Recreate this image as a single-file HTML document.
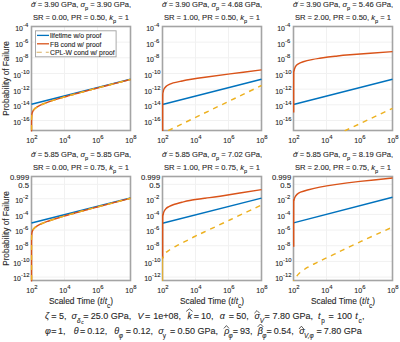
<!DOCTYPE html><html><head><meta charset="utf-8"><style>html,body{margin:0;padding:0;background:#fff;width:400px;height:342px;overflow:hidden}svg{display:block}text{stroke:#262626;stroke-width:0.1px}</style></head><body><svg width="400" height="342" viewBox="0 0 400 342" font-family="Liberation Sans, sans-serif"><defs><clipPath id="c00"><rect x="30.5" y="25.5" width="101.0" height="106.0"/></clipPath><clipPath id="c01"><rect x="161.5" y="25.5" width="101.0" height="106.0"/></clipPath><clipPath id="c02"><rect x="292.5" y="25.5" width="101.0" height="106.0"/></clipPath><clipPath id="c10"><rect x="30.5" y="175.5" width="101.0" height="106.0"/></clipPath><clipPath id="c11"><rect x="161.5" y="175.5" width="101.0" height="106.0"/></clipPath><clipPath id="c12"><rect x="292.5" y="175.5" width="101.0" height="106.0"/></clipPath></defs><rect width="400" height="342" fill="#fff"/><g stroke="#f1f1f1" stroke-width="1"><line x1="64.5" y1="26.5" x2="64.5" y2="130.5"/><line x1="97.5" y1="26.5" x2="97.5" y2="130.5"/><line x1="31.5" y1="42.17" x2="130.5" y2="42.17"/><line x1="31.5" y1="57.83" x2="130.5" y2="57.83"/><line x1="31.5" y1="73.5" x2="130.5" y2="73.5"/><line x1="31.5" y1="89.16" x2="130.5" y2="89.16"/><line x1="31.5" y1="104.83" x2="130.5" y2="104.83"/><line x1="31.5" y1="120.5" x2="130.5" y2="120.5"/></g><rect x="31.5" y="26.5" width="99.0" height="104.0" fill="none" stroke="#a4a4a4" stroke-width="1.6"/><g stroke="#f1f1f1" stroke-width="1"><line x1="195.5" y1="26.5" x2="195.5" y2="130.5"/><line x1="228.5" y1="26.5" x2="228.5" y2="130.5"/><line x1="162.5" y1="42.17" x2="261.5" y2="42.17"/><line x1="162.5" y1="57.83" x2="261.5" y2="57.83"/><line x1="162.5" y1="73.5" x2="261.5" y2="73.5"/><line x1="162.5" y1="89.16" x2="261.5" y2="89.16"/><line x1="162.5" y1="104.83" x2="261.5" y2="104.83"/><line x1="162.5" y1="120.5" x2="261.5" y2="120.5"/></g><rect x="162.5" y="26.5" width="99.0" height="104.0" fill="none" stroke="#a4a4a4" stroke-width="1.6"/><g stroke="#f1f1f1" stroke-width="1"><line x1="326.5" y1="26.5" x2="326.5" y2="130.5"/><line x1="359.5" y1="26.5" x2="359.5" y2="130.5"/><line x1="293.5" y1="42.17" x2="392.5" y2="42.17"/><line x1="293.5" y1="57.83" x2="392.5" y2="57.83"/><line x1="293.5" y1="73.5" x2="392.5" y2="73.5"/><line x1="293.5" y1="89.16" x2="392.5" y2="89.16"/><line x1="293.5" y1="104.83" x2="392.5" y2="104.83"/><line x1="293.5" y1="120.5" x2="392.5" y2="120.5"/></g><rect x="293.5" y="26.5" width="99.0" height="104.0" fill="none" stroke="#a4a4a4" stroke-width="1.6"/><g stroke="#f1f1f1" stroke-width="1"><line x1="64.5" y1="176.5" x2="64.5" y2="280.5"/><line x1="97.5" y1="176.5" x2="97.5" y2="280.5"/><line x1="31.5" y1="184.32" x2="130.5" y2="184.32"/><line x1="31.5" y1="198.72" x2="130.5" y2="198.72"/><line x1="31.5" y1="214.41" x2="130.5" y2="214.41"/><line x1="31.5" y1="230.07" x2="130.5" y2="230.07"/><line x1="31.5" y1="245.74" x2="130.5" y2="245.74"/><line x1="31.5" y1="261.41" x2="130.5" y2="261.41"/><line x1="31.5" y1="277.07" x2="130.5" y2="277.07"/></g><rect x="31.5" y="176.5" width="99.0" height="104.0" fill="none" stroke="#a4a4a4" stroke-width="1.6"/><g stroke="#f1f1f1" stroke-width="1"><line x1="195.5" y1="176.5" x2="195.5" y2="280.5"/><line x1="228.5" y1="176.5" x2="228.5" y2="280.5"/><line x1="162.5" y1="184.32" x2="261.5" y2="184.32"/><line x1="162.5" y1="198.72" x2="261.5" y2="198.72"/><line x1="162.5" y1="214.41" x2="261.5" y2="214.41"/><line x1="162.5" y1="230.07" x2="261.5" y2="230.07"/><line x1="162.5" y1="245.74" x2="261.5" y2="245.74"/><line x1="162.5" y1="261.41" x2="261.5" y2="261.41"/><line x1="162.5" y1="277.07" x2="261.5" y2="277.07"/></g><rect x="162.5" y="176.5" width="99.0" height="104.0" fill="none" stroke="#a4a4a4" stroke-width="1.6"/><g stroke="#f1f1f1" stroke-width="1"><line x1="326.5" y1="176.5" x2="326.5" y2="280.5"/><line x1="359.5" y1="176.5" x2="359.5" y2="280.5"/><line x1="293.5" y1="184.32" x2="392.5" y2="184.32"/><line x1="293.5" y1="198.72" x2="392.5" y2="198.72"/><line x1="293.5" y1="214.41" x2="392.5" y2="214.41"/><line x1="293.5" y1="230.07" x2="392.5" y2="230.07"/><line x1="293.5" y1="245.74" x2="392.5" y2="245.74"/><line x1="293.5" y1="261.41" x2="392.5" y2="261.41"/><line x1="293.5" y1="277.07" x2="392.5" y2="277.07"/></g><rect x="293.5" y="176.5" width="99.0" height="104.0" fill="none" stroke="#a4a4a4" stroke-width="1.6"/><path d="M31.5 104.2 L130.5 79.3" fill="none" stroke="#0072BD" stroke-width="1.45" stroke-linejoin="round" clip-path="url(#c00)"/><path d="M31.55 150 L31.5 146.16 L31.5 140.28 L31.5 134.41 L31.5 130.3 L31.5 126.76 L31.51 124.43 L31.52 122.66 L31.53 120.89 L31.57 119.12 L31.62 117.7 L31.7 116.32 L31.83 115 L31.99 113.95 L32.24 112.89 L32.49 112.12 L32.66 111.69 L32.85 111.29 L33.05 110.91 L33.26 110.55 L33.49 110.2 L33.73 109.87 L33.98 109.56 L34.25 109.25 L34.53 108.96 L34.83 108.67 L35.14 108.4 L35.46 108.12 L35.8 107.86 L36.15 107.6 L36.51 107.34 L36.89 107.09 L37.28 106.84 L37.69 106.6 L38.11 106.35 L38.54 106.11 L38.99 105.88 L39.45 105.64 L39.92 105.4 L40.41 105.17 L40.91 104.93 L41.43 104.7 L41.96 104.47 L42.5 104.24 L43.06 104 L43.63 103.77 L44.21 103.54 L44.81 103.3 L45.42 103.07 L46.05 102.84 L46.69 102.6 L47.34 102.36 L48.01 102.13 L48.69 101.89 L49.38 101.65 L50.09 101.41 L50.81 101.16 L51.55 100.92 L52.3 100.67 L53.06 100.43 L53.84 100.18 L54.63 99.93 L55.43 99.67 L56.25 99.42 L57.08 99.16 L57.93 98.91 L58.79 98.65 L59.66 98.38 L60.55 98.12 L61.45 97.85 L62.36 97.58 L63.29 97.31 L64.23 97.04 L65.19 96.76 L66.16 96.49 L67.14 96.2 L68.14 95.92 L69.15 95.64 L70.17 95.35 L71.21 95.06 L72.26 94.77 L73.33 94.47 L74.41 94.17 L75.5 93.87 L76.61 93.57 L77.73 93.26 L78.86 92.95 L80.01 92.64 L81.17 92.33 L82.35 92.01 L83.54 91.69 L84.74 91.37 L85.96 91.04 L87.19 90.72 L88.43 90.39 L89.69 90.05 L90.96 89.71 L92.25 89.37 L93.55 89.03 L94.86 88.69 L96.19 88.34 L97.53 87.99 L98.88 87.63 L100.25 87.27 L101.63 86.91 L103.03 86.55 L104.44 86.18 L105.86 85.81 L107.3 85.44 L108.75 85.06 L110.21 84.69 L111.69 84.3 L113.18 83.92 L114.69 83.53 L116.21 83.14 L117.74 82.74 L119.29 82.35 L120.85 81.95 L122.42 81.54 L124.01 81.13 L125.61 80.72 L127.23 80.31 L128.86 79.89 L130.5 79.47" fill="none" stroke="#D95319" stroke-width="1.45" stroke-linejoin="round" clip-path="url(#c00)"/><path d="M31.55 150 L31.5 146.16 L31.5 140.28 L31.5 134.41 L31.5 130.3 L31.5 126.76 L31.51 124.43 L31.52 122.66 L31.53 120.89 L31.57 119.12 L31.62 117.7 L31.7 116.32 L31.83 115 L31.99 113.95 L32.24 112.89 L32.49 112.12 L32.66 111.69 L32.85 111.29 L33.05 110.91 L33.26 110.55 L33.49 110.2 L33.73 109.87 L33.98 109.56 L34.25 109.25 L34.53 108.96 L34.83 108.67 L35.14 108.4 L35.46 108.12 L35.8 107.86 L36.15 107.6 L36.51 107.34 L36.89 107.09 L37.28 106.84 L37.69 106.6 L38.11 106.35 L38.54 106.11 L38.99 105.88 L39.45 105.64 L39.92 105.4 L40.41 105.17 L40.91 104.93 L41.43 104.7 L41.96 104.47 L42.5 104.24 L43.06 104 L43.63 103.77 L44.21 103.54 L44.81 103.3 L45.42 103.07 L46.05 102.84 L46.69 102.6 L47.34 102.36 L48.01 102.13 L48.69 101.89 L49.38 101.65 L50.09 101.41 L50.81 101.16 L51.55 100.92 L52.3 100.67 L53.06 100.43 L53.84 100.18 L54.63 99.93 L55.43 99.67 L56.25 99.42 L57.08 99.16 L57.93 98.91 L58.79 98.65 L59.66 98.38 L60.55 98.12 L61.45 97.85 L62.36 97.58 L63.29 97.31 L64.23 97.04 L65.19 96.76 L66.16 96.49 L67.14 96.2 L68.14 95.92 L69.15 95.64 L70.17 95.35 L71.21 95.06 L72.26 94.77 L73.33 94.47 L74.41 94.17 L75.5 93.87 L76.61 93.57 L77.73 93.26 L78.86 92.95 L80.01 92.64 L81.17 92.33 L82.35 92.01 L83.54 91.69 L84.74 91.37 L85.96 91.04 L87.19 90.72 L88.43 90.39 L89.69 90.05 L90.96 89.71 L92.25 89.37 L93.55 89.03 L94.86 88.69 L96.19 88.34 L97.53 87.99 L98.88 87.63 L100.25 87.27 L101.63 86.91 L103.03 86.55 L104.44 86.18 L105.86 85.81 L107.3 85.44 L108.75 85.06 L110.21 84.69 L111.69 84.3 L113.18 83.92 L114.69 83.53 L116.21 83.14 L117.74 82.74 L119.29 82.35 L120.85 81.95 L122.42 81.54 L124.01 81.13 L125.61 80.72 L127.23 80.31 L128.86 79.89 L130.5 79.47" fill="none" stroke="#EDB120" stroke-width="1.45" stroke-dasharray="5.1 4.9" stroke-dashoffset="0" stroke-linejoin="round" clip-path="url(#c00)"/><path d="M162.5 104.5 L261.5 79.3" fill="none" stroke="#0072BD" stroke-width="1.45" stroke-linejoin="round" clip-path="url(#c01)"/><path d="M162.7 131 C162.7 125.33 162.62 103.5 162.7 97 C162.78 90.5 162.98 93.33 163.2 92 C163.42 90.67 163.52 89.93 164 89 C164.48 88.07 165.3 87.12 166.1 86.4 C166.9 85.68 167.62 85.28 168.8 84.7 C169.98 84.12 171.02 83.52 173.2 82.9 C175.38 82.28 179.13 81.57 181.9 81 C184.67 80.43 185.95 80.13 189.8 79.5 C193.65 78.87 198.3 78.13 205 77.2 C211.7 76.27 220.58 75.12 230 73.9 C239.42 72.68 256.25 70.57 261.5 69.9" fill="none" stroke="#D95319" stroke-width="1.45" stroke-linejoin="round" clip-path="url(#c01)"/><path d="M165 132.2 L261.5 85.5" fill="none" stroke="#EDB120" stroke-width="1.45" stroke-dasharray="5.1 4.9" stroke-dashoffset="6.56" stroke-linejoin="round" clip-path="url(#c01)"/><path d="M293.5 104.5 L392.5 79.2" fill="none" stroke="#0072BD" stroke-width="1.45" stroke-linejoin="round" clip-path="url(#c02)"/><path d="M293.7 112.4 C293.7 106.33 293.65 82.9 293.7 76 C293.75 69.1 293.73 72.53 294 71 C294.27 69.47 294.65 67.95 295.3 66.8 C295.95 65.65 296.58 64.93 297.9 64.1 C299.22 63.27 300.87 62.55 303.2 61.8 C305.53 61.05 309.13 60.18 311.9 59.6 C314.67 59.02 315.95 58.85 319.8 58.3 C323.65 57.75 329.97 56.88 335 56.3 C340.03 55.72 340.42 55.58 350 54.8 C359.58 54.02 385.42 52.13 392.5 51.6" fill="none" stroke="#D95319" stroke-width="1.45" stroke-linejoin="round" clip-path="url(#c02)"/><path d="M341.5 132.4 L392.5 108.3" fill="none" stroke="#EDB120" stroke-width="1.45" stroke-dasharray="5.1 4.9" stroke-dashoffset="6.57" stroke-linejoin="round" clip-path="url(#c02)"/><path d="M31.5 223 L130.5 198" fill="none" stroke="#0072BD" stroke-width="1.45" stroke-linejoin="round" clip-path="url(#c10)"/><path d="M31.55 300 L31.5 262.64 L31.5 257.16 L31.5 251.67 L31.5 247.84 L31.5 244.54 L31.51 242.36 L31.52 240.71 L31.53 239.06 L31.57 237.41 L31.62 236.08 L31.7 234.79 L31.83 233.57 L31.99 232.58 L32.24 231.59 L32.49 230.87 L32.66 230.47 L32.85 230.08 L33.05 229.73 L33.26 229.39 L33.49 229.06 L33.73 228.75 L33.98 228.45 L34.25 228.16 L34.53 227.88 L34.83 227.61 L35.14 227.34 L35.46 227.08 L35.8 226.83 L36.15 226.57 L36.51 226.33 L36.89 226.08 L37.28 225.84 L37.69 225.61 L38.11 225.37 L38.54 225.14 L38.99 224.9 L39.45 224.67 L39.92 224.44 L40.41 224.21 L40.91 223.98 L41.43 223.75 L41.96 223.52 L42.5 223.29 L43.06 223.06 L43.63 222.83 L44.21 222.6 L44.81 222.37 L45.42 222.14 L46.05 221.9 L46.69 221.67 L47.34 221.43 L48.01 221.2 L48.69 220.96 L49.38 220.72 L50.09 220.48 L50.81 220.23 L51.55 219.99 L52.3 219.74 L53.06 219.5 L53.84 219.25 L54.63 218.99 L55.43 218.74 L56.25 218.49 L57.08 218.23 L57.93 217.97 L58.79 217.71 L59.66 217.44 L60.55 217.17 L61.45 216.91 L62.36 216.63 L63.29 216.36 L64.23 216.08 L65.19 215.81 L66.16 215.53 L67.14 215.24 L68.14 214.96 L69.15 214.67 L70.17 214.38 L71.21 214.08 L72.26 213.79 L73.33 213.49 L74.41 213.19 L75.5 212.88 L76.61 212.58 L77.73 212.27 L78.86 211.95 L80.01 211.64 L81.17 211.32 L82.35 211 L83.54 210.68 L84.74 210.35 L85.96 210.02 L87.19 209.69 L88.43 209.35 L89.69 209.02 L90.96 208.67 L92.25 208.33 L93.55 207.98 L94.86 207.63 L96.19 207.28 L97.53 206.93 L98.88 206.57 L100.25 206.2 L101.63 205.84 L103.03 205.47 L104.44 205.1 L105.86 204.73 L107.3 204.35 L108.75 203.97 L110.21 203.59 L111.69 203.2 L113.18 202.81 L114.69 202.42 L116.21 202.02 L117.74 201.62 L119.29 201.22 L120.85 200.81 L122.42 200.41 L124.01 199.99 L125.61 199.58 L127.23 199.16 L128.86 198.74 L130.5 198.32" fill="none" stroke="#D95319" stroke-width="1.45" stroke-linejoin="round" clip-path="url(#c10)"/><path d="M31.55 300 L31.5 262.64 L31.5 257.16 L31.5 251.67 L31.5 247.84 L31.5 244.54 L31.51 242.36 L31.52 240.71 L31.53 239.06 L31.57 237.41 L31.62 236.08 L31.7 234.79 L31.83 233.57 L31.99 232.58 L32.24 231.59 L32.49 230.87 L32.66 230.47 L32.85 230.08 L33.05 229.73 L33.26 229.39 L33.49 229.06 L33.73 228.75 L33.98 228.45 L34.25 228.16 L34.53 227.88 L34.83 227.61 L35.14 227.34 L35.46 227.08 L35.8 226.83 L36.15 226.57 L36.51 226.33 L36.89 226.08 L37.28 225.84 L37.69 225.61 L38.11 225.37 L38.54 225.14 L38.99 224.9 L39.45 224.67 L39.92 224.44 L40.41 224.21 L40.91 223.98 L41.43 223.75 L41.96 223.52 L42.5 223.29 L43.06 223.06 L43.63 222.83 L44.21 222.6 L44.81 222.37 L45.42 222.14 L46.05 221.9 L46.69 221.67 L47.34 221.43 L48.01 221.2 L48.69 220.96 L49.38 220.72 L50.09 220.48 L50.81 220.23 L51.55 219.99 L52.3 219.74 L53.06 219.5 L53.84 219.25 L54.63 218.99 L55.43 218.74 L56.25 218.49 L57.08 218.23 L57.93 217.97 L58.79 217.71 L59.66 217.44 L60.55 217.17 L61.45 216.91 L62.36 216.63 L63.29 216.36 L64.23 216.08 L65.19 215.81 L66.16 215.53 L67.14 215.24 L68.14 214.96 L69.15 214.67 L70.17 214.38 L71.21 214.08 L72.26 213.79 L73.33 213.49 L74.41 213.19 L75.5 212.88 L76.61 212.58 L77.73 212.27 L78.86 211.95 L80.01 211.64 L81.17 211.32 L82.35 211 L83.54 210.68 L84.74 210.35 L85.96 210.02 L87.19 209.69 L88.43 209.35 L89.69 209.02 L90.96 208.67 L92.25 208.33 L93.55 207.98 L94.86 207.63 L96.19 207.28 L97.53 206.93 L98.88 206.57 L100.25 206.2 L101.63 205.84 L103.03 205.47 L104.44 205.1 L105.86 204.73 L107.3 204.35 L108.75 203.97 L110.21 203.59 L111.69 203.2 L113.18 202.81 L114.69 202.42 L116.21 202.02 L117.74 201.62 L119.29 201.22 L120.85 200.81 L122.42 200.41 L124.01 199.99 L125.61 199.58 L127.23 199.16 L128.86 198.74 L130.5 198.32" fill="none" stroke="#EDB120" stroke-width="1.45" stroke-dasharray="5.1 4.9" stroke-dashoffset="0" stroke-linejoin="round" clip-path="url(#c10)"/><path d="M162.5 223.2 L261.5 198.1" fill="none" stroke="#0072BD" stroke-width="1.45" stroke-linejoin="round" clip-path="url(#c11)"/><path d="M162.7 281 L162.7 258" fill="none" stroke="#EDB120" stroke-width="1.0" stroke-linejoin="round" clip-path="url(#c11)"/><path d="M162.7 258.3 C162.7 251.75 162.62 226.3 162.7 219 C162.78 211.7 162.98 215.75 163.2 214.5 C163.42 213.25 163.52 212.52 164 211.5 C164.48 210.48 165.3 209.2 166.1 208.4 C166.9 207.6 167.62 207.32 168.8 206.7 C169.98 206.08 171.02 205.43 173.2 204.7 C175.38 203.97 179.13 203 181.9 202.3 C184.67 201.6 185.95 201.18 189.8 200.5 C193.65 199.82 199.97 198.92 205 198.2 C210.03 197.48 210.58 197.63 220 196.2 C229.42 194.77 254.58 190.7 261.5 189.6" fill="none" stroke="#D95319" stroke-width="1.45" stroke-linejoin="round" clip-path="url(#c11)"/><path d="M162.7 258.2 C163.08 257.43 164.07 254.83 165 253.6 C165.93 252.37 166.28 252.12 168.25 250.8 C170.22 249.48 173.92 247.26 176.85 245.65 C179.78 244.04 182.83 242.68 185.8 241.15 C188.78 239.62 191.72 237.98 194.7 236.5 C197.68 235.02 197.68 235.08 203.7 232.25 C209.72 229.42 221.17 224.04 230.8 219.5 C240.43 214.96 256.38 207.42 261.5 205" fill="none" stroke="#EDB120" stroke-width="1.45" stroke-dasharray="5.1 4.9" stroke-dashoffset="3.27" stroke-linejoin="round" clip-path="url(#c11)"/><path d="M293.5 222.9 L392.5 197.3" fill="none" stroke="#0072BD" stroke-width="1.45" stroke-linejoin="round" clip-path="url(#c12)"/><path d="M293.7 246.7 C293.7 239.58 293.65 211.7 293.7 204 C293.75 196.3 293.82 201.58 294 200.5 C294.18 199.42 294.3 198.52 294.8 197.5 C295.3 196.48 296.05 195.28 297 194.4 C297.95 193.52 298.75 192.93 300.5 192.2 C302.25 191.47 304.28 190.85 307.5 190 C310.72 189.15 315.22 188 319.8 187.1 C324.38 186.2 328.3 185.55 335 184.6 C341.7 183.65 350.42 182.5 360 181.4 C369.58 180.3 387.08 178.57 392.5 178" fill="none" stroke="#D95319" stroke-width="1.45" stroke-linejoin="round" clip-path="url(#c12)"/><path d="M293.6 280.8 C294 280.2 295.05 278.47 296 277.2 C296.95 275.93 297.32 274.87 299.3 273.2 C301.28 271.53 304.93 268.97 307.85 267.2 C310.78 265.43 313.93 264.02 316.85 262.55 C319.78 261.08 322.47 259.79 325.4 258.4 C328.32 257.01 331.45 255.62 334.4 254.2 C337.35 252.77 338.67 251.97 343.1 249.85 C347.53 247.72 354.98 244.24 361 241.45 C367.02 238.66 374 235.49 379.25 233.1 C384.5 230.71 390.29 228.1 392.5 227.1" fill="none" stroke="#EDB120" stroke-width="1.45" stroke-dasharray="5.1 4.9" stroke-dashoffset="4.26" stroke-linejoin="round" clip-path="url(#c12)"/><g font-size="7" fill="#262626"><text x="31.9" y="143.2" text-anchor="middle">10<tspan font-size="5.9" baseline-shift="3.7">2</tspan></text><text x="64.9" y="143.2" text-anchor="middle">10<tspan font-size="5.9" baseline-shift="3.7">4</tspan></text><text x="97.9" y="143.2" text-anchor="middle">10<tspan font-size="5.9" baseline-shift="3.7">6</tspan></text><text x="130.9" y="143.2" text-anchor="middle">10<tspan font-size="5.9" baseline-shift="3.7">8</tspan></text><text x="28.2" y="30.9" text-anchor="end">10<tspan font-size="5.9" baseline-shift="3.7">-4</tspan></text><text x="28.2" y="46.57" text-anchor="end">10<tspan font-size="5.9" baseline-shift="3.7">-6</tspan></text><text x="28.2" y="62.23" text-anchor="end">10<tspan font-size="5.9" baseline-shift="3.7">-8</tspan></text><text x="29.5" y="77.9" text-anchor="end">10<tspan font-size="5.9" baseline-shift="3.7">-10</tspan></text><text x="29.5" y="93.56" text-anchor="end">10<tspan font-size="5.9" baseline-shift="3.7">-12</tspan></text><text x="29.5" y="109.23" text-anchor="end">10<tspan font-size="5.9" baseline-shift="3.7">-14</tspan></text><text x="29.5" y="124.9" text-anchor="end">10<tspan font-size="5.9" baseline-shift="3.7">-16</tspan></text></g><g font-size="7" fill="#262626"><text x="162.9" y="143.2" text-anchor="middle">10<tspan font-size="5.9" baseline-shift="3.7">2</tspan></text><text x="195.9" y="143.2" text-anchor="middle">10<tspan font-size="5.9" baseline-shift="3.7">4</tspan></text><text x="228.9" y="143.2" text-anchor="middle">10<tspan font-size="5.9" baseline-shift="3.7">6</tspan></text><text x="261.9" y="143.2" text-anchor="middle">10<tspan font-size="5.9" baseline-shift="3.7">8</tspan></text><text x="159.2" y="30.9" text-anchor="end">10<tspan font-size="5.9" baseline-shift="3.7">-4</tspan></text><text x="159.2" y="46.57" text-anchor="end">10<tspan font-size="5.9" baseline-shift="3.7">-6</tspan></text><text x="159.2" y="62.23" text-anchor="end">10<tspan font-size="5.9" baseline-shift="3.7">-8</tspan></text><text x="160.5" y="77.9" text-anchor="end">10<tspan font-size="5.9" baseline-shift="3.7">-10</tspan></text><text x="160.5" y="93.56" text-anchor="end">10<tspan font-size="5.9" baseline-shift="3.7">-12</tspan></text><text x="160.5" y="109.23" text-anchor="end">10<tspan font-size="5.9" baseline-shift="3.7">-14</tspan></text><text x="160.5" y="124.9" text-anchor="end">10<tspan font-size="5.9" baseline-shift="3.7">-16</tspan></text></g><g font-size="7" fill="#262626"><text x="293.9" y="143.2" text-anchor="middle">10<tspan font-size="5.9" baseline-shift="3.7">2</tspan></text><text x="326.9" y="143.2" text-anchor="middle">10<tspan font-size="5.9" baseline-shift="3.7">4</tspan></text><text x="359.9" y="143.2" text-anchor="middle">10<tspan font-size="5.9" baseline-shift="3.7">6</tspan></text><text x="392.9" y="143.2" text-anchor="middle">10<tspan font-size="5.9" baseline-shift="3.7">8</tspan></text><text x="290.2" y="30.9" text-anchor="end">10<tspan font-size="5.9" baseline-shift="3.7">-4</tspan></text><text x="290.2" y="46.57" text-anchor="end">10<tspan font-size="5.9" baseline-shift="3.7">-6</tspan></text><text x="290.2" y="62.23" text-anchor="end">10<tspan font-size="5.9" baseline-shift="3.7">-8</tspan></text><text x="291.5" y="77.9" text-anchor="end">10<tspan font-size="5.9" baseline-shift="3.7">-10</tspan></text><text x="291.5" y="93.56" text-anchor="end">10<tspan font-size="5.9" baseline-shift="3.7">-12</tspan></text><text x="291.5" y="109.23" text-anchor="end">10<tspan font-size="5.9" baseline-shift="3.7">-14</tspan></text><text x="291.5" y="124.9" text-anchor="end">10<tspan font-size="5.9" baseline-shift="3.7">-16</tspan></text></g><g font-size="7" fill="#262626"><text x="31.9" y="293.2" text-anchor="middle">10<tspan font-size="5.9" baseline-shift="3.7">2</tspan></text><text x="64.9" y="293.2" text-anchor="middle">10<tspan font-size="5.9" baseline-shift="3.7">4</tspan></text><text x="97.9" y="293.2" text-anchor="middle">10<tspan font-size="5.9" baseline-shift="3.7">6</tspan></text><text x="130.9" y="293.2" text-anchor="middle">10<tspan font-size="5.9" baseline-shift="3.7">8</tspan></text><text x="29.2" y="179.6" text-anchor="end" font-size="7.7">0.999</text><text x="29" y="187.62" text-anchor="end" font-size="7.7">0.5</text><text x="28.2" y="203.12" text-anchor="end">10<tspan font-size="5.9" baseline-shift="3.7">-2</tspan></text><text x="28.2" y="218.81" text-anchor="end">10<tspan font-size="5.9" baseline-shift="3.7">-4</tspan></text><text x="28.2" y="234.47" text-anchor="end">10<tspan font-size="5.9" baseline-shift="3.7">-6</tspan></text><text x="28.2" y="250.14" text-anchor="end">10<tspan font-size="5.9" baseline-shift="3.7">-8</tspan></text><text x="29.5" y="265.81" text-anchor="end">10<tspan font-size="5.9" baseline-shift="3.7">-10</tspan></text><text x="29.5" y="281.47" text-anchor="end">10<tspan font-size="5.9" baseline-shift="3.7">-12</tspan></text></g><g font-size="7" fill="#262626"><text x="162.9" y="293.2" text-anchor="middle">10<tspan font-size="5.9" baseline-shift="3.7">2</tspan></text><text x="195.9" y="293.2" text-anchor="middle">10<tspan font-size="5.9" baseline-shift="3.7">4</tspan></text><text x="228.9" y="293.2" text-anchor="middle">10<tspan font-size="5.9" baseline-shift="3.7">6</tspan></text><text x="261.9" y="293.2" text-anchor="middle">10<tspan font-size="5.9" baseline-shift="3.7">8</tspan></text><text x="160.2" y="179.6" text-anchor="end" font-size="7.7">0.999</text><text x="160" y="187.62" text-anchor="end" font-size="7.7">0.5</text><text x="159.2" y="203.12" text-anchor="end">10<tspan font-size="5.9" baseline-shift="3.7">-2</tspan></text><text x="159.2" y="218.81" text-anchor="end">10<tspan font-size="5.9" baseline-shift="3.7">-4</tspan></text><text x="159.2" y="234.47" text-anchor="end">10<tspan font-size="5.9" baseline-shift="3.7">-6</tspan></text><text x="159.2" y="250.14" text-anchor="end">10<tspan font-size="5.9" baseline-shift="3.7">-8</tspan></text><text x="160.5" y="265.81" text-anchor="end">10<tspan font-size="5.9" baseline-shift="3.7">-10</tspan></text><text x="160.5" y="281.47" text-anchor="end">10<tspan font-size="5.9" baseline-shift="3.7">-12</tspan></text></g><g font-size="7" fill="#262626"><text x="293.9" y="293.2" text-anchor="middle">10<tspan font-size="5.9" baseline-shift="3.7">2</tspan></text><text x="326.9" y="293.2" text-anchor="middle">10<tspan font-size="5.9" baseline-shift="3.7">4</tspan></text><text x="359.9" y="293.2" text-anchor="middle">10<tspan font-size="5.9" baseline-shift="3.7">6</tspan></text><text x="392.9" y="293.2" text-anchor="middle">10<tspan font-size="5.9" baseline-shift="3.7">8</tspan></text><text x="291.2" y="179.6" text-anchor="end" font-size="7.7">0.999</text><text x="291" y="187.62" text-anchor="end" font-size="7.7">0.5</text><text x="290.2" y="203.12" text-anchor="end">10<tspan font-size="5.9" baseline-shift="3.7">-2</tspan></text><text x="290.2" y="218.81" text-anchor="end">10<tspan font-size="5.9" baseline-shift="3.7">-4</tspan></text><text x="290.2" y="234.47" text-anchor="end">10<tspan font-size="5.9" baseline-shift="3.7">-6</tspan></text><text x="290.2" y="250.14" text-anchor="end">10<tspan font-size="5.9" baseline-shift="3.7">-8</tspan></text><text x="291.5" y="265.81" text-anchor="end">10<tspan font-size="5.9" baseline-shift="3.7">-10</tspan></text><text x="291.5" y="281.47" text-anchor="end">10<tspan font-size="5.9" baseline-shift="3.7">-12</tspan></text></g><rect x="35.5" y="30.8" width="80.6" height="26.0" fill="#fff" stroke="#a0a0a0" stroke-width="0.9"/><line x1="37" y1="35.4" x2="49" y2="35.4" stroke="#0072BD" stroke-width="1.3"/><line x1="37" y1="43.8" x2="49" y2="43.8" stroke="#D95319" stroke-width="1.3"/><line x1="36.6" y1="52.2" x2="48.8" y2="52.2" stroke="#d9b060" stroke-width="1.1" stroke-dasharray="5.2 4"/><g font-size="6.8" fill="#262626"><text x="50" y="38">lifetime w/o proof</text><text x="50" y="46.6">FB cond w/ proof</text><text x="50" y="55">CPL-W cond w/ proof</text></g><g font-size="7.6" fill="#262626"><text x="81" y="7.2" text-anchor="middle"><tspan font-style="italic">σ</tspan> = 3.90 GPa, <tspan font-style="italic">σ</tspan><tspan font-size="5.6" baseline-shift="-3.1">p</tspan> = 3.90 GPa,</text><text x="81" y="20.2" text-anchor="middle">SR = 0.00, PR = 0.50, <tspan font-style="italic">k</tspan><tspan font-size="5.6" baseline-shift="-3.1">p</tspan> = 1</text><text x="212" y="7.2" text-anchor="middle"><tspan font-style="italic">σ</tspan> = 3.90 GPa, <tspan font-style="italic">σ</tspan><tspan font-size="5.6" baseline-shift="-3.1">p</tspan> = 4.68 GPa,</text><text x="212" y="20.2" text-anchor="middle">SR = 1.00, PR = 0.50, <tspan font-style="italic">k</tspan><tspan font-size="5.6" baseline-shift="-3.1">p</tspan> = 1</text><text x="343" y="7.2" text-anchor="middle"><tspan font-style="italic">σ</tspan> = 3.90 GPa, <tspan font-style="italic">σ</tspan><tspan font-size="5.6" baseline-shift="-3.1">p</tspan> = 5.46 GPa,</text><text x="343" y="20.2" text-anchor="middle">SR = 2.00, PR = 0.50, <tspan font-style="italic">k</tspan><tspan font-size="5.6" baseline-shift="-3.1">p</tspan> = 1</text><text x="81" y="157.2" text-anchor="middle"><tspan font-style="italic">σ</tspan> = 5.85 GPa, <tspan font-style="italic">σ</tspan><tspan font-size="5.6" baseline-shift="-3.1">p</tspan> = 5.85 GPa,</text><text x="81" y="170.2" text-anchor="middle">SR = 0.00, PR = 0.75, <tspan font-style="italic">k</tspan><tspan font-size="5.6" baseline-shift="-3.1">p</tspan> = 1</text><text x="212" y="157.2" text-anchor="middle"><tspan font-style="italic">σ</tspan> = 5.85 GPa, <tspan font-style="italic">σ</tspan><tspan font-size="5.6" baseline-shift="-3.1">p</tspan> = 7.02 GPa,</text><text x="212" y="170.2" text-anchor="middle">SR = 1.00, PR = 0.75, <tspan font-style="italic">k</tspan><tspan font-size="5.6" baseline-shift="-3.1">p</tspan> = 1</text><text x="343" y="157.2" text-anchor="middle"><tspan font-style="italic">σ</tspan> = 5.85 GPa, <tspan font-style="italic">σ</tspan><tspan font-size="5.6" baseline-shift="-3.1">p</tspan> = 8.19 GPa,</text><text x="343" y="170.2" text-anchor="middle">SR = 2.00, PR = 0.75, <tspan font-style="italic">k</tspan><tspan font-size="5.6" baseline-shift="-3.1">p</tspan> = 1</text></g><text transform="translate(9.4 78.5) rotate(-90)" text-anchor="middle" font-size="8.2" fill="#262626">Probability of Failure</text><text transform="translate(9.4 228.5) rotate(-90)" text-anchor="middle" font-size="8.2" fill="#262626">Probability of Failure</text><text x="81" y="304" text-anchor="middle" font-size="8.4" fill="#262626">Scaled Time (<tspan font-style="italic">t</tspan>/<tspan font-style="italic">t</tspan><tspan font-size="6.5" baseline-shift="-3.8">c</tspan>)</text><text x="212" y="304" text-anchor="middle" font-size="8.4" fill="#262626">Scaled Time (<tspan font-style="italic">t</tspan>/<tspan font-style="italic">t</tspan><tspan font-size="6.5" baseline-shift="-3.8">c</tspan>)</text><text x="343" y="304" text-anchor="middle" font-size="8.4" fill="#262626">Scaled Time (<tspan font-style="italic">t</tspan>/<tspan font-style="italic">t</tspan><tspan font-size="6.5" baseline-shift="-3.8">c</tspan>)</text><g font-size="9" fill="#262626"><text y="319.4"><tspan x="45" font-style="italic">ζ</tspan><tspan x="51.3">= 5,</tspan><tspan x="71.5" font-style="italic">σ</tspan><tspan x="77" font-style="italic" font-size="6.4" baseline-shift="-3.7">δ</tspan><tspan x="81.3" font-style="italic" font-size="4.6" baseline-shift="-4.6">c</tspan><tspan x="83.3">=</tspan><tspan x="90.8">25.0 GPa,</tspan><tspan x="137.5" font-style="italic">V</tspan><tspan x="145">=</tspan><tspan x="153.2">1e+08,</tspan><tspan x="187.5" font-style="italic">k</tspan><tspan x="193.8">=</tspan><tspan x="201">10,</tspan><tspan x="219.7" font-style="italic">α</tspan><tspan x="228.7">=</tspan><tspan x="236.3">50,</tspan><tspan x="254.6" font-style="italic">σ</tspan><tspan x="259.8" font-style="italic" font-size="6.4" baseline-shift="-3.7">V</tspan><tspan x="264.4">=</tspan><tspan x="272.4">7.80 GPa,</tspan><tspan x="318" font-style="italic">t</tspan><tspan x="321.2" font-size="6.4" baseline-shift="-3.7">p</tspan><tspan x="328.6">=</tspan><tspan x="337.1">100</tspan><tspan x="355.2" font-style="italic">t</tspan><tspan x="358.4" font-size="6.4" baseline-shift="-3.7">c</tspan><tspan x="362">,</tspan></text><text y="334.1"><tspan x="45" font-style="italic">φ</tspan><tspan x="51.3">=</tspan><tspan x="58">1,</tspan><tspan x="73.8" font-style="italic">θ</tspan><tspan x="80">=</tspan><tspan x="87.3">0.12,</tspan><tspan x="114.3" font-style="italic">θ</tspan><tspan x="118.8" font-style="italic" font-size="6.4" baseline-shift="-3.7">φ</tspan><tspan x="125.8">=</tspan><tspan x="133">0.12,</tspan><tspan x="158.3" font-style="italic">σ</tspan><tspan x="162.7" font-size="6.4" baseline-shift="-3.7">y</tspan><tspan x="170">=</tspan><tspan x="177.4">0.50 GPa,</tspan><tspan x="224.3" font-style="italic">ρ</tspan><tspan x="228.4" font-style="italic" font-size="6.4" baseline-shift="-3.7">φ</tspan><tspan x="232.8">=</tspan><tspan x="240">93,</tspan><tspan x="257.7" font-style="italic">β</tspan><tspan x="262.2" font-style="italic" font-size="6.4" baseline-shift="-3.7">φ</tspan><tspan x="266.6">=</tspan><tspan x="273.75">0.54,</tspan><tspan x="299.2" font-style="italic">σ</tspan><tspan x="304" font-style="italic" font-size="6.4" baseline-shift="-3.7">V,φ</tspan><tspan x="316.5">=</tspan><tspan x="323.75">7.80 GPa</tspan></text></g><path d="M32.7 3.2 Q33.6 1.8 34.5 2.6 T36.3 2 M163.7 3.2 Q164.6 1.8 165.5 2.6 T167.3 2 M294.7 3.2 Q295.6 1.8 296.5 2.6 T298.3 2 M32.7 153.2 Q33.6 151.8 34.5 152.6 T36.3 152 M163.7 153.2 Q164.6 151.8 165.5 152.6 T167.3 152 M294.7 153.2 Q295.6 151.8 296.5 152.6 T298.3 152 " fill="none" stroke="#262626" stroke-width="0.8"/><path d="M186.2 311.4 L189.4 308.9 L192.6 311.4 M254.4 313.2 L257 310.6 L259.6 313.2 M223.9 328.4 L226.45 325.6 L229 328.4 M257.7 326.9 L260.5 324 L263.3 326.9 M299 329 L301.4 326.2 L303.8 329 " fill="none" stroke="#262626" stroke-width="0.75"/></svg></body></html>
